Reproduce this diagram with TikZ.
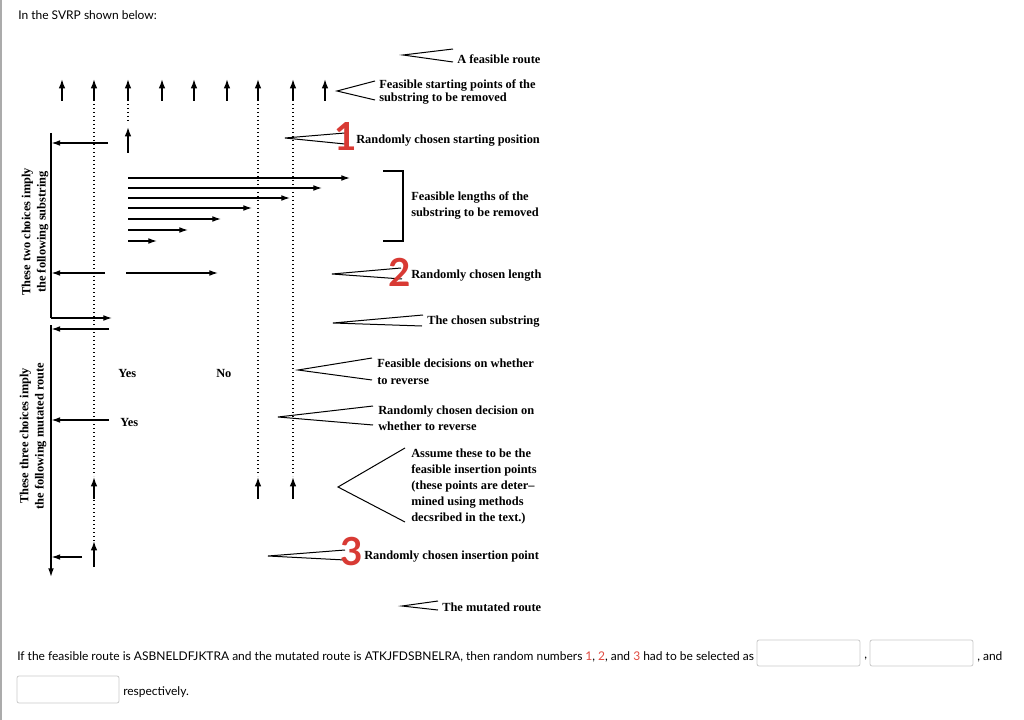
\documentclass[tikz,border=0pt]{standalone}
\usepackage{fontspec}
\setmainfont{Liberation Serif}
\newfontfamily\uifont{Lato}
\usetikzlibrary{arrows.meta}
\definecolor{numred}{HTML}{D83A34}
\definecolor{qred}{HTML}{E0493F}
\definecolor{boxgray}{HTML}{CACACA}
\definecolor{edgegray}{HTML}{ABABAB}

\begin{document}
\begin{tikzpicture}[
  x=0.75pt, y=-0.75pt,
  lbl/.style={font=\fontsize{9.3}{12}\selectfont\bfseries, anchor=west, inner sep=0pt, align=left},
  uptip/.style={-{Latex[length=7pt,width=5pt]}, line width=1.3pt},
  harrow/.style={-{Latex[length=6.5pt,width=4.3pt]}, line width=0.9pt},
  dots/.style={dotted, line width=1pt},
  wedge/.style={line width=0.75pt},
  bignum/.style={font=\uifont\fontsize{29}{29}\selectfont\bfseries, text=numred, inner sep=0pt},
  qtext/.style={font=\uifont\fontsize{9}{11}\selectfont, anchor=west, inner sep=0pt},
  answer/.style={draw=boxgray, fill=white, rounded corners=1.5pt, line width=0.6pt}
]
\useasboundingbox (0,0) rectangle (1024,720);
\fill[edgegray] (0,0) rectangle (2,720);

% Question heading
\node[qtext] (head) at (18,15) {In the SVRP shown below:};

% Feasible route: starting points
\foreach \cx in {62,94,128,162,194,227,258,293,325}
  \draw[uptip] (\cx,101) -- (\cx,79);

% Dotted columns
\draw[dots] (94,104) -- (94,476);
\draw[dots] (94,500) -- (94,541);
\draw[dots] (128,104) -- (128,124);
\draw[dots] (258,104) -- (258,476);
\draw[dots] (293,104) -- (293,476);

% Chosen starting position
\draw[uptip] (128,153) -- (128,127);
\draw[line width=1pt] (51,133) -- (51,318);
\draw[harrow] (51,318) -- (112,318);
\draw[harrow] (108,143) -- (51.5,143);

% Feasible lengths
\draw[harrow] (128,178) -- (350,178);
\draw[harrow] (128,188) -- (322,188);
\draw[harrow] (128,198) -- (290,198);
\draw[harrow] (128,208) -- (252,208);
\draw[harrow] (128,219) -- (221,219);
\draw[harrow] (128,230) -- (188,230);
\draw[harrow] (128,241) -- (157,241);
\draw[line width=0.8pt] (383,171) -- (403,171) -- (403,241) -- (383,241);

% Chosen length
\draw[harrow] (105,273) -- (51.5,273);
\draw[harrow] (126,273) -- (218,273);

% Mutated route bracket
\draw[line width=1pt, -{Latex[length=6.5pt,width=4.3pt]}] (51,325) -- (51,577);
\draw[harrow] (109,329) -- (51.5,329);
\draw[harrow] (109,420) -- (51.5,420);
\draw[harrow] (82,557) -- (51.5,557);

% Insertion points
\draw[uptip] (94,499) -- (94,477);
\draw[uptip] (94,567) -- (94,541);
\draw[uptip] (258,499) -- (258,477);
\draw[uptip] (293,499) -- (293,477);

% Reverse decisions
\node[lbl] (yesa) at (118,373) {Yes};
\node[lbl] (noa) at (216,373) {No};
\node[lbl] (yesb) at (120,422) {Yes};

% Side labels
\node[lbl, anchor=center, align=center, rotate=90, font=\fontsize{9.3}{11.5}\selectfont\bfseries] (sub) at (35,232)
  {These two choices imply\\the following substring};
\node[lbl, anchor=center, align=center, rotate=90, font=\fontsize{9.3}{11.5}\selectfont\bfseries] (mut) at (33,436)
  {These three choices imply\\the following mutated route};

% Callouts
\draw[wedge] (453,49) -- (403,55) -- (453,62);
\node[lbl] (route) at (457,59) {A feasible route};

\draw[wedge] (375,81) -- (337,91) -- (375,100);
\node[lbl, font=\fontsize{9.3}{8.4}\selectfont\bfseries] (starts) at (379,92)
  {Feasible starting points of the\\substring to be removed};

\draw[wedge] (345,133) -- (285,138) -- (345,144);
\node[bignum] (one) at (346,137) {1};
\node[lbl] (startpos) at (356,141) {Randomly chosen starting position};

\node[lbl] (lengths) at (411,206) {Feasible lengths of the\\substring to be removed};

\draw[wedge] (401,268) -- (332,274) -- (402,279);
\node[bignum] (two) at (400,272) {2};
\node[lbl] (length) at (411,276) {Randomly chosen length};

\draw[wedge] (423,315) -- (333,323) -- (422,326);
\node[lbl] (substr) at (427,322) {The chosen substring};

\draw[wedge] (372,358) -- (298,370) -- (372,380);
\node[lbl, font=\fontsize{9.3}{12.6}\selectfont\bfseries] (revs) at (377,372)
  {Feasible decisions on whether\\to reverse};

\draw[wedge] (373,406) -- (278,417) -- (373,425);
\node[lbl] (rev) at (378,418) {Randomly chosen decision on\\whether to reverse};

\draw[wedge] (405,448) -- (338,487) -- (405,522);
\node[lbl] (inserts) at (411,487)
  {Assume these to be the\\feasible insertion points\\(these points are deter--\\mined using methods\\decsribed in the text.)};

\draw[wedge] (345,550) -- (268,556) -- (345,560);
\node[bignum] (three) at (352,552) {3};
\node[lbl] (insert) at (364,557) {Randomly chosen insertion point};

\draw[wedge] (438,601) -- (402,606) -- (438,610);
\node[lbl] (mroute) at (442,607) {The mutated route};

% Question
\node[qtext] (ask) at (17,657) {If the feasible route is ASBNELDFJKTRA and the mutated route is ATKJFDSBNELRA, then random numbers \textcolor{qred}{1}, \textcolor{qred}{2}, and \textcolor{qred}{3} had to be selected as};
\draw[answer] (757,640) rectangle (860,666);
\node[qtext] (comma) at (864,659) {,};
\draw[answer] (870,640) rectangle (973,666);
\node[qtext] (andw) at (977,657) {, and};
\draw[answer] (17,676) rectangle (119,703);
\node[qtext] (resp) at (123,692) {respectively.};

\end{tikzpicture}
\end{document}
